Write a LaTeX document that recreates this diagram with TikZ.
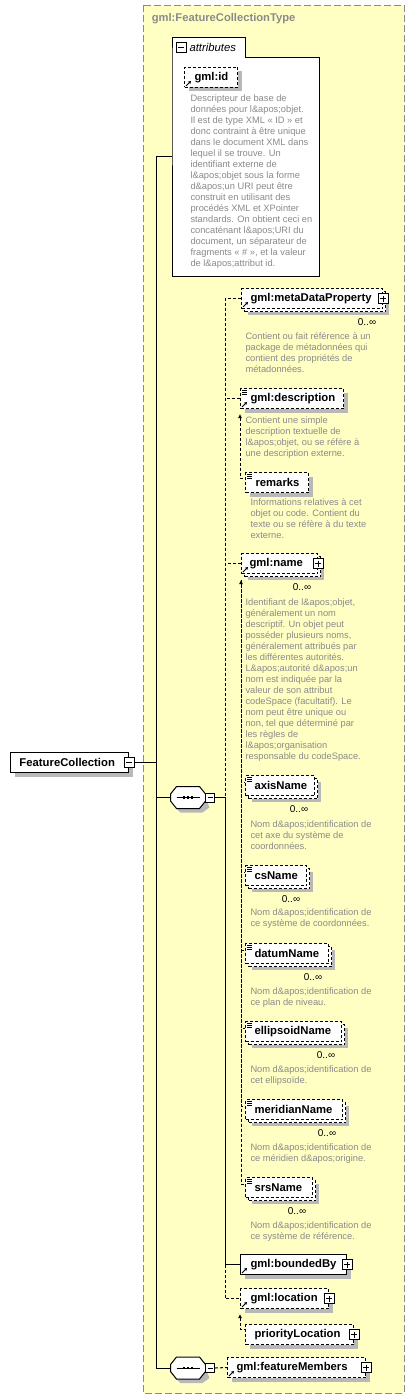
\documentclass[tikz,border=0pt]{standalone}
\usepackage{fontspec}
\setmainfont{Liberation Sans}
\usetikzlibrary{arrows.meta,shadows,backgrounds}

\definecolor{typebg}{HTML}{FFFFC4}
\definecolor{typeline}{HTML}{8A8A8A}
\definecolor{notegray}{HTML}{8A8A8A}
\definecolor{shadowgray}{HTML}{B8B8B8}

\tikzset{
  optdash/.style={dash pattern=on 3pt off 2pt},
  xsdbox/.style={draw, fill=white, inner xsep=0pt, inner ysep=0pt, minimum height=20pt,
    anchor=north west, align=left, font=\bfseries\fontsize{11.3}{13}\selectfont},
  single/.style={xsdbox, drop shadow={shadow xshift=4pt, shadow yshift=-4pt, fill=shadowgray, opacity=1}},
  multi/.style={xsdbox, drop shadow={shadow xshift=6pt, shadow yshift=-6pt, fill=shadowgray, opacity=1},
    general shadow={shadow xshift=3pt, shadow yshift=-3pt, draw, fill=white, optdash}},
  note/.style={anchor=north west, inner sep=0pt, align=left, text=notegray, font=\fontsize{9.3}{11}\selectfont},
  mult/.style={inner sep=0pt, font=\fontsize{10}{11}\selectfont},
  plusbox/.style={draw, solid, fill=white, minimum size=10pt, inner sep=0pt,
    path picture={\draw[solid] ([xshift=2pt]path picture bounding box.west) -- ([xshift=-2pt]path picture bounding box.east);
      \draw[solid] ([yshift=-2pt]path picture bounding box.north) -- ([yshift=2pt]path picture bounding box.south);}},
  minusbox/.style={draw, solid, fill=white, minimum size=10pt, inner sep=0pt,
    path picture={\draw[solid] ([xshift=2pt]path picture bounding box.west) -- ([xshift=-2pt]path picture bounding box.east);}},
  refarrow/.style={solid, line width=0.9pt, -{Stealth[length=3pt,width=3.5pt]}},
  subst/.style={optdash, {Latex[length=4pt,width=4pt]}-},
  seqicon/.style={minimum width=34pt, minimum height=21pt, inner sep=0pt}
}

\newcommand\refmark[1]{\draw[refarrow] ([shift={(2,-2)}]#1.south west) -- ++(5,-5);}
\newcommand\simpleicon[1]{\foreach \k in {0,1.8,3.6} \draw[solid, line width=0.7pt] ([shift={(2,2.5+\k)}]#1.north west) -- ++(5,0);}
% sequence compositor drawn over an empty node
\newcommand\seqshape[1]{%
  \fill[shadowgray] ([shift={(10,4)}]#1.north west) -- ([shift={(-3,4)}]#1.north east) -- ([shift={(4,10)}]#1.east)
    -- ([shift={(-3,4)}]#1.south east) -- ([shift={(10,4)}]#1.south west) -- ([shift={(4,-2)}]#1.south west) -- cycle;
  \draw[fill=white] ([xshift=6pt]#1.north west) -- ([xshift=-6pt]#1.north east) -- ([yshift=3.5pt]#1.east)
    -- ([yshift=-3.5pt]#1.east) -- ([xshift=-6pt]#1.south east) -- ([xshift=6pt]#1.south west)
    -- ([yshift=-3.5pt]#1.west) -- ([yshift=3.5pt]#1.west) -- cycle;
  \draw ([xshift=6pt]#1.west) -- ([xshift=-6pt]#1.east);
  \foreach \d in {-4,0,4} \fill ([xshift=\d pt]#1.center) +(-1.4,-1.4) rectangle +(1.4,1.4);}

\begin{document}
\begin{tikzpicture}[x=1pt,y=-1pt,line width=1pt]
\useasboundingbox (0,0) rectangle (415,1399);

% complex type
\begin{scope}[on background layer]
  \draw[fill=typebg, draw=typeline, dash pattern=on 7pt off 3pt] (143,5) rectangle (404,1393);
\end{scope}
\node[anchor=west, text=typeline, font=\bfseries\fontsize{11.2}{13}\selectfont] (ctype) at (148,19) {gml:FeatureCollectionType};

% attributes
\node[anchor=north west, minimum width=146pt, minimum height=218pt, inner sep=0pt] (attr) at (172,57) {};
\node[anchor=south west, minimum width=72pt, minimum height=19pt, inner sep=0pt] (attrTab) at (172,57) {};
\begin{scope}[on background layer]
  \draw[fill=white] (attrTab.south west) |- (attrTab.north east) |- (attr.north east) |- (attr.south west) -- cycle;
\end{scope}
\node[minusbox] (attrM) at (181,47.5) {};
\node[anchor=west, inner sep=0pt, font=\itshape\fontsize{11.3}{13}\selectfont] (attrLbl) at (189,47.5) {attributes};

\node[single, optdash, text width=53pt] (gmlid) at (184,67) {\hspace*{10pt}gml:id};
\refmark{gmlid}
\node[note] (gmlidN) at (190,94) {Descripteur de base de\\
données pour l\&apos;objet.\\
Il est de type XML « ID » et\\
donc contraint à être unique\\
dans le document XML dans\\
lequel il se trouve. Un\\
identifiant externe de\\
l\&apos;objet sous la forme\\
d\&apos;un URI peut être\\
construit en utilisant des\\
procédés XML et XPointer\\
standards. On obtient ceci en\\
concaténant l\&apos;URI du\\
document, un séparateur de\\
fragments « \# », et la valeur\\
de l\&apos;attribut id.};

% root element
\node[single, text width=118pt] (fc) at (10,752) {\hspace*{9pt}FeatureCollection};
\node[minusbox] (fcM) at (fc.east) {};

% sequences
\node[seqicon] (seqA) at (188,797.5) {};
\seqshape{seqA}
\node[minusbox, minimum size=9pt] (seqAM) at (210,797.5) {};
\node[seqicon] (seqB) at (188,1368) {};
\seqshape{seqB}
\node[minusbox, minimum size=9pt] (seqBM) at (210,1368) {};

% children of the first sequence
\node[multi, optdash, text width=141pt] (meta) at (241,288) {\hspace*{9pt}gml:metaDataProperty};
\refmark{meta}
\node[plusbox] (metaP) at (meta.east) {};
\node[mult] (metaX) at ([shift={(-16,13.5)}]meta.south east) {0..∞};
\node[note] (metaN) at (245,332) {Contient ou fait référence à un\\
package de métadonnées qui\\
contient des propriétés de\\
métadonnées.};

\node[single, optdash, text width=103pt] (descr) at (240,388) {\hspace*{10pt}gml:description};
\refmark{descr}
\simpleicon{descr}
\node[note] (descrN) at (245,416) {Contient une simple\\
description textuelle de\\
l\&apos;objet, ou se réfère à\\
une description externe.};

\node[single, optdash, text width=63pt] (remarks) at (245,472) {\hspace*{10pt}remarks};
\simpleicon{remarks}
\node[note] (remarksN) at (250,498) {Informations relatives à cet\\
objet ou code. Contient du\\
texte ou se réfère à du texte\\
externe.};

\node[multi, optdash, text width=76pt] (name) at (241,553) {\hspace*{8pt}gml:name};
\refmark{name}
\node[plusbox] (nameP) at (name.east) {};
\node[mult] (nameX) at ([shift={(-16,13.5)}]name.south east) {0..∞};
\node[note] (nameN) at (245,598) {Identifiant de l\&apos;objet,\\
généralement un nom\\
descriptif. Un objet peut\\
posséder plusieurs noms,\\
généralement attribués par\\
les différentes autorités.\\
L\&apos;autorité d\&apos;un\\
nom est indiquée par la\\
valeur de son attribut\\
codeSpace (facultatif). Le\\
nom peut être unique ou\\
non, tel que déterminé par\\
les règles de\\
l\&apos;organisation\\
responsable du codeSpace.};

\node[multi, optdash, text width=69pt] (axis) at (245,775) {\hspace*{9pt}axisName};
\simpleicon{axis}
\node[mult] (axisX) at ([shift={(-16,13.5)}]axis.south east) {0..∞};
\node[note] (axisN) at (250,820) {Nom d\&apos;identification de\\
cet axe du système de\\
coordonnées.};

\node[multi, optdash, text width=61pt] (cs) at (245,865) {\hspace*{9pt}csName};
\simpleicon{cs}
\node[mult] (csX) at ([shift={(-16,13.5)}]cs.south east) {0..∞};
\node[note] (csN) at (250,908) {Nom d\&apos;identification de\\
ce système de coordonnées.};

\node[multi, optdash, text width=83pt] (datum) at (245,943) {\hspace*{9pt}datumName};
\simpleicon{datum}
\node[mult] (datumX) at ([shift={(-16,13.5)}]datum.south east) {0..∞};
\node[note] (datumN) at (250,987) {Nom d\&apos;identification de\\
ce plan de niveau.};

\node[multi, optdash, text width=96pt] (ellip) at (245,1021) {\hspace*{9pt}ellipsoidName};
\simpleicon{ellip}
\node[mult] (ellipX) at ([shift={(-16,13.5)}]ellip.south east) {0..∞};
\node[note] (ellipN) at (250,1065) {Nom d\&apos;identification de\\
cet ellipsoïde.};

\node[multi, optdash, text width=97pt] (merid) at (245,1099) {\hspace*{9pt}meridianName};
\simpleicon{merid}
\node[mult] (meridX) at ([shift={(-16,13.5)}]merid.south east) {0..∞};
\node[note] (meridN) at (250,1143) {Nom d\&apos;identification de\\
ce méridien d\&apos;origine.};

\node[multi, optdash, text width=67pt] (srs) at (245,1177) {\hspace*{9pt}srsName};
\simpleicon{srs}
\node[mult] (srsX) at ([shift={(-16,13.5)}]srs.south east) {0..∞};
\node[note] (srsN) at (250,1221) {Nom d\&apos;identification de\\
ce système de référence.};

\node[single, text width=106pt] (bbox) at (240,1254) {\hspace*{10pt}gml:boundedBy};
\refmark{bbox}
\node[plusbox] (bboxP) at (bbox.east) {};

\node[single, optdash, text width=88pt] (loc) at (240,1288) {\hspace*{10pt}gml:location};
\refmark{loc}
\node[plusbox] (locP) at (loc.east) {};

\node[single, optdash, text width=108pt] (prio) at (245,1324) {\hspace*{9pt}priorityLocation};
\node[plusbox] (prioP) at (prio.east) {};

% child of the second sequence
\node[single, optdash, text width=138pt] (members) at (227,1357) {\hspace*{9pt}gml:featureMembers};
\refmark{members}
\node[plusbox] (membersP) at (members.east) {};

% connectors
\coordinate (trunk) at (156,157);
\coordinate (branch) at (225,298);
\draw (fcM.east) -- (fcM.east -| trunk);
\draw (trunk -| attr.west) -- (trunk) -- (trunk |- seqB.west) -- (seqB.west);
\draw (trunk |- seqA.west) -- (seqA.west);
\draw (seqAM.east) -- (seqAM.east -| branch) |- (bbox.west);
\draw[optdash] (meta.west) -| (branch |- seqAM.east);
\draw[optdash] (descr.west) -- (descr.west -| branch);
\draw[optdash] (name.west) -- (name.west -| branch);
\draw[optdash] (bbox.west -| branch) |- (loc.west);
\draw[optdash] (seqBM.east) -- (members.west);

% substitution groups
\draw[subst] ([yshift=-5pt]descr.south west) |- ([yshift=-6pt]remarks.north west);
\foreach \el in {axis,cs,datum,ellip,merid}
  \draw[optdash] ([yshift=-6pt]name.south west) |- ([yshift=-7pt]\el.north west);
\draw[subst] ([yshift=-6pt]name.south west) |- ([yshift=-7pt]srs.north west);
\draw[subst] ([yshift=-5pt]loc.south west) |- ([yshift=-5pt]prio.north west);

\end{tikzpicture}
\end{document}
